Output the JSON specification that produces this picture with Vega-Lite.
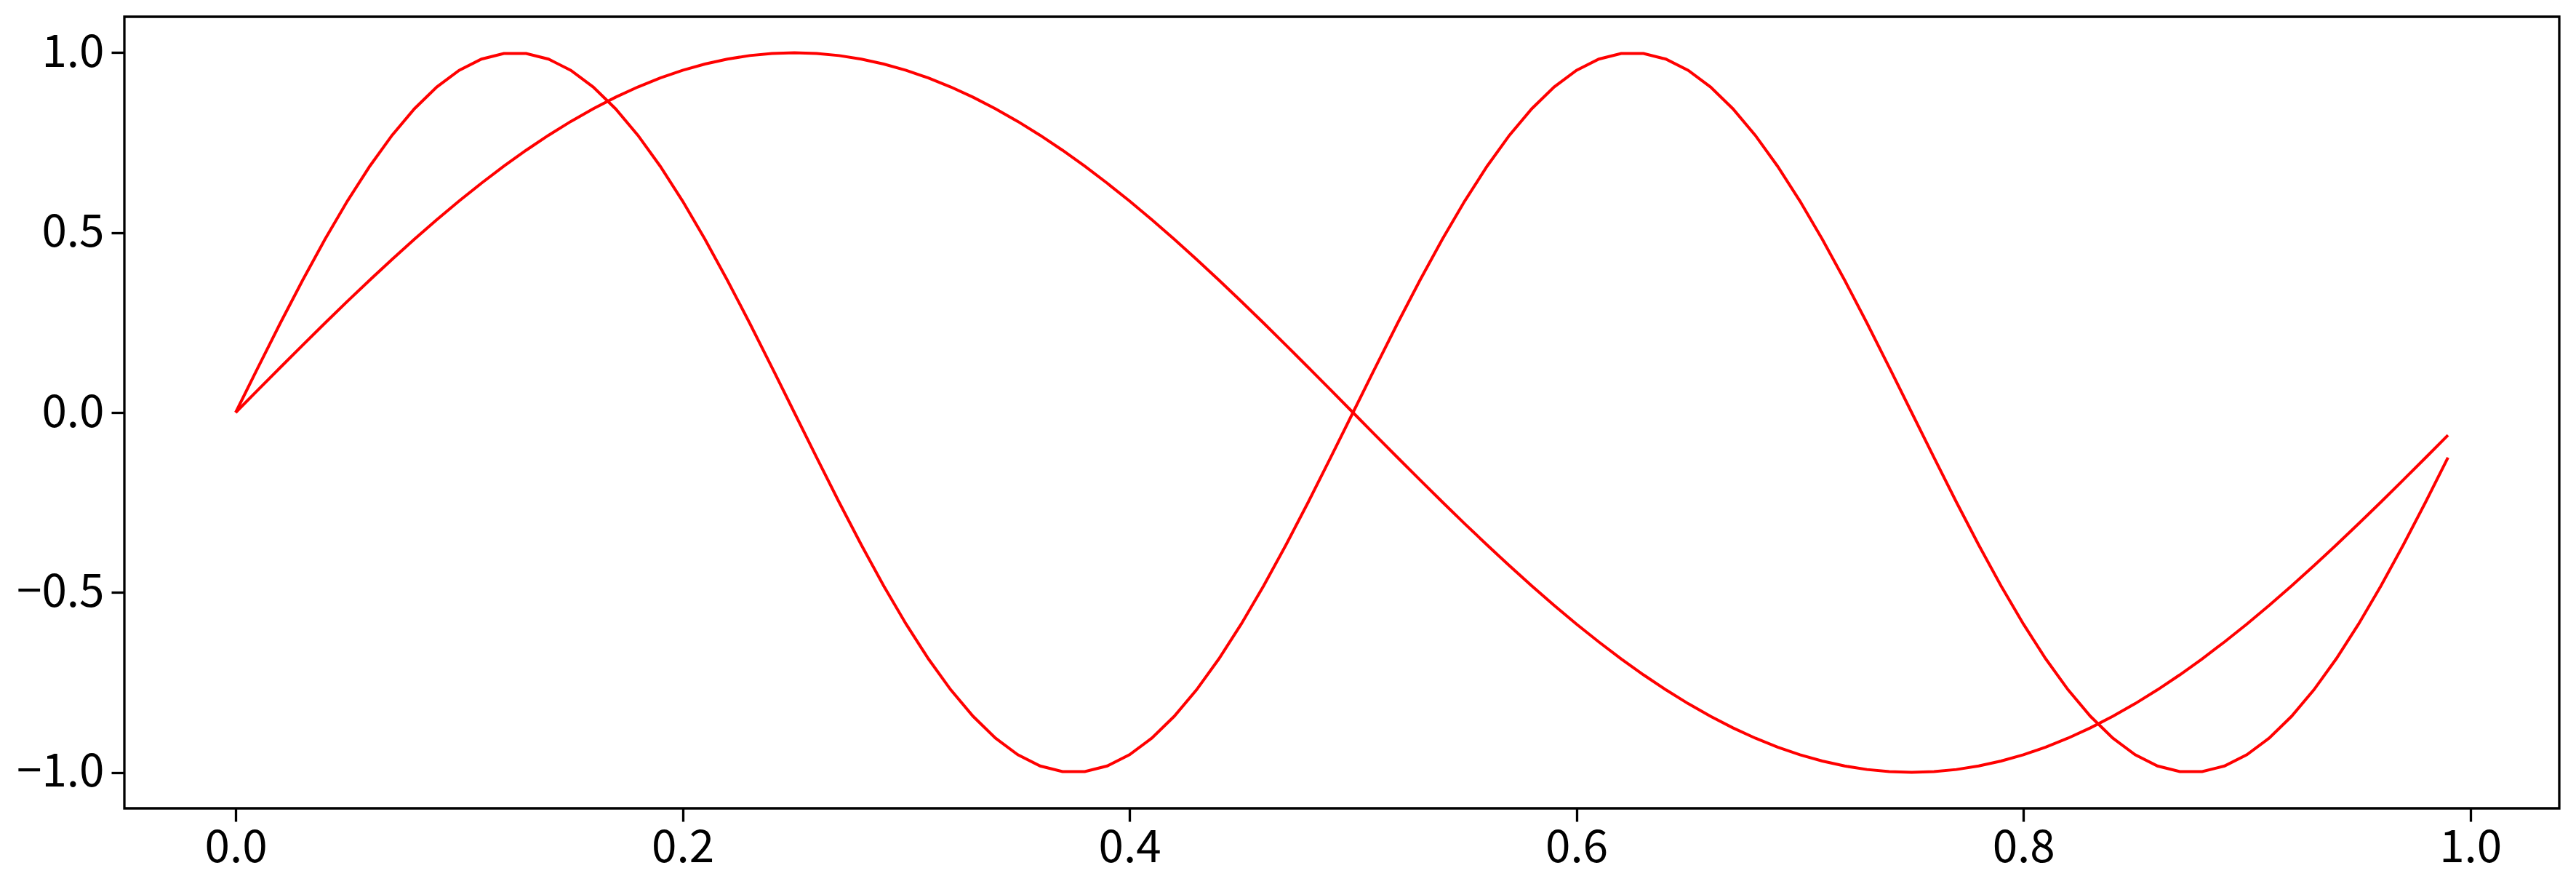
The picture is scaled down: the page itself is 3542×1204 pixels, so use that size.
{
  "$schema": "https://vega.github.io/schema/vega-lite/v6.json",
  "width": 3348,
  "height": 1088,
  "autosize": {"type": "none"},
  "padding": {"left": 171, "top": 23, "right": 23, "bottom": 93},
  "background": "white",
  "config": {
    "view": {"stroke": "black", "strokeWidth": 3.3},
    "axis": {
      "domain": false,
      "grid": false,
      "ticks": true,
      "tickColor": "black",
      "tickSize": 18,
      "tickWidth": 3.3,
      "labelColor": "black",
      "labelFont": "Noto Sans CJK SC",
      "labelFontSize": 62,
      "title": null
    }
  },
  "data": {
    "values": [
      {"x": 0, "a": 0, "b": 0},
      {"x": 0.01, "a": 0.0628, "b": 0.1253},
      {"x": 0.02, "a": 0.1253, "b": 0.2487},
      {"x": 0.03, "a": 0.1874, "b": 0.3681},
      {"x": 0.04, "a": 0.2487, "b": 0.4818},
      {"x": 0.05, "a": 0.309, "b": 0.5878},
      {"x": 0.06, "a": 0.3681, "b": 0.6845},
      {"x": 0.07, "a": 0.4258, "b": 0.7705},
      {"x": 0.08, "a": 0.4818, "b": 0.8443},
      {"x": 0.09, "a": 0.5358, "b": 0.9048},
      {"x": 0.1, "a": 0.5878, "b": 0.9511},
      {"x": 0.11, "a": 0.6374, "b": 0.9823},
      {"x": 0.12, "a": 0.6845, "b": 0.998},
      {"x": 0.13, "a": 0.729, "b": 0.998},
      {"x": 0.14, "a": 0.7705, "b": 0.9823},
      {"x": 0.15, "a": 0.809, "b": 0.9511},
      {"x": 0.16, "a": 0.8443, "b": 0.9048},
      {"x": 0.17, "a": 0.8763, "b": 0.8443},
      {"x": 0.18, "a": 0.9048, "b": 0.7705},
      {"x": 0.19, "a": 0.9298, "b": 0.6845},
      {"x": 0.2, "a": 0.9511, "b": 0.5878},
      {"x": 0.21, "a": 0.9686, "b": 0.4818},
      {"x": 0.22, "a": 0.9823, "b": 0.3681},
      {"x": 0.23, "a": 0.9921, "b": 0.2487},
      {"x": 0.24, "a": 0.998, "b": 0.1253},
      {"x": 0.25, "a": 1, "b": 0},
      {"x": 0.26, "a": 0.998, "b": -0.1253},
      {"x": 0.27, "a": 0.9921, "b": -0.2487},
      {"x": 0.28, "a": 0.9823, "b": -0.3681},
      {"x": 0.29, "a": 0.9686, "b": -0.4818},
      {"x": 0.3, "a": 0.9511, "b": -0.5878},
      {"x": 0.31, "a": 0.9298, "b": -0.6845},
      {"x": 0.32, "a": 0.9048, "b": -0.7705},
      {"x": 0.33, "a": 0.8763, "b": -0.8443},
      {"x": 0.34, "a": 0.8443, "b": -0.9048},
      {"x": 0.35, "a": 0.809, "b": -0.9511},
      {"x": 0.36, "a": 0.7705, "b": -0.9823},
      {"x": 0.37, "a": 0.729, "b": -0.998},
      {"x": 0.38, "a": 0.6845, "b": -0.998},
      {"x": 0.39, "a": 0.6374, "b": -0.9823},
      {"x": 0.4, "a": 0.5878, "b": -0.9511},
      {"x": 0.41, "a": 0.5358, "b": -0.9048},
      {"x": 0.42, "a": 0.4818, "b": -0.8443},
      {"x": 0.43, "a": 0.4258, "b": -0.7705},
      {"x": 0.44, "a": 0.3681, "b": -0.6845},
      {"x": 0.45, "a": 0.309, "b": -0.5878},
      {"x": 0.46, "a": 0.2487, "b": -0.4818},
      {"x": 0.47, "a": 0.1874, "b": -0.3681},
      {"x": 0.48, "a": 0.1253, "b": -0.2487},
      {"x": 0.49, "a": 0.0628, "b": -0.1253},
      {"x": 0.5, "a": 0, "b": 0},
      {"x": 0.51, "a": -0.0628, "b": 0.1253},
      {"x": 0.52, "a": -0.1253, "b": 0.2487},
      {"x": 0.53, "a": -0.1874, "b": 0.3681},
      {"x": 0.54, "a": -0.2487, "b": 0.4818},
      {"x": 0.55, "a": -0.309, "b": 0.5878},
      {"x": 0.56, "a": -0.3681, "b": 0.6845},
      {"x": 0.57, "a": -0.4258, "b": 0.7705},
      {"x": 0.58, "a": -0.4818, "b": 0.8443},
      {"x": 0.59, "a": -0.5358, "b": 0.9048},
      {"x": 0.6, "a": -0.5878, "b": 0.9511},
      {"x": 0.61, "a": -0.6374, "b": 0.9823},
      {"x": 0.62, "a": -0.6845, "b": 0.998},
      {"x": 0.63, "a": -0.729, "b": 0.998},
      {"x": 0.64, "a": -0.7705, "b": 0.9823},
      {"x": 0.65, "a": -0.809, "b": 0.9511},
      {"x": 0.66, "a": -0.8443, "b": 0.9048},
      {"x": 0.67, "a": -0.8763, "b": 0.8443},
      {"x": 0.68, "a": -0.9048, "b": 0.7705},
      {"x": 0.69, "a": -0.9298, "b": 0.6845},
      {"x": 0.7, "a": -0.9511, "b": 0.5878},
      {"x": 0.71, "a": -0.9686, "b": 0.4818},
      {"x": 0.72, "a": -0.9823, "b": 0.3681},
      {"x": 0.73, "a": -0.9921, "b": 0.2487},
      {"x": 0.74, "a": -0.998, "b": 0.1253},
      {"x": 0.75, "a": -1, "b": 0},
      {"x": 0.76, "a": -0.998, "b": -0.1253},
      {"x": 0.77, "a": -0.9921, "b": -0.2487},
      {"x": 0.78, "a": -0.9823, "b": -0.3681},
      {"x": 0.79, "a": -0.9686, "b": -0.4818},
      {"x": 0.8, "a": -0.9511, "b": -0.5878},
      {"x": 0.81, "a": -0.9298, "b": -0.6845},
      {"x": 0.82, "a": -0.9048, "b": -0.7705},
      {"x": 0.83, "a": -0.8763, "b": -0.8443},
      {"x": 0.84, "a": -0.8443, "b": -0.9048},
      {"x": 0.85, "a": -0.809, "b": -0.9511},
      {"x": 0.86, "a": -0.7705, "b": -0.9823},
      {"x": 0.87, "a": -0.729, "b": -0.998},
      {"x": 0.88, "a": -0.6845, "b": -0.998},
      {"x": 0.89, "a": -0.6374, "b": -0.9823},
      {"x": 0.9, "a": -0.5878, "b": -0.9511},
      {"x": 0.91, "a": -0.5358, "b": -0.9048},
      {"x": 0.92, "a": -0.4818, "b": -0.8443},
      {"x": 0.93, "a": -0.4258, "b": -0.7705},
      {"x": 0.94, "a": -0.3681, "b": -0.6845},
      {"x": 0.95, "a": -0.309, "b": -0.5878},
      {"x": 0.96, "a": -0.2487, "b": -0.4818},
      {"x": 0.97, "a": -0.1874, "b": -0.3681},
      {"x": 0.98, "a": -0.1253, "b": -0.2487},
      {"x": 0.99, "a": -0.0628, "b": -0.1253}
    ]
  },
  "transform": [
    {"fold": ["a", "b"], "as": ["series", "y"]}
  ],
  "mark": {"type": "line", "color": "#ff0000", "strokeWidth": 4, "clip": true},
  "encoding": {
    "x": {
      "field": "x",
      "type": "quantitative",
      "scale": {"domain": [-0.0498, 1.0398], "nice": false, "zero": false},
      "axis": {
        "values": [0, 0.2, 0.4, 0.6, 0.8, 1.0],
        "format": ".1f",
        "labelPadding": 6
      }
    },
    "y": {
      "field": "y",
      "type": "quantitative",
      "scale": {"domain": [-1.1, 1.1], "nice": false, "zero": false},
      "axis": {
        "values": [-1, -0.5, 0, 0.5, 1],
        "format": ".1f",
        "labelPadding": 10
      }
    },
    "detail": {"field": "series", "type": "nominal"}
  }
}
